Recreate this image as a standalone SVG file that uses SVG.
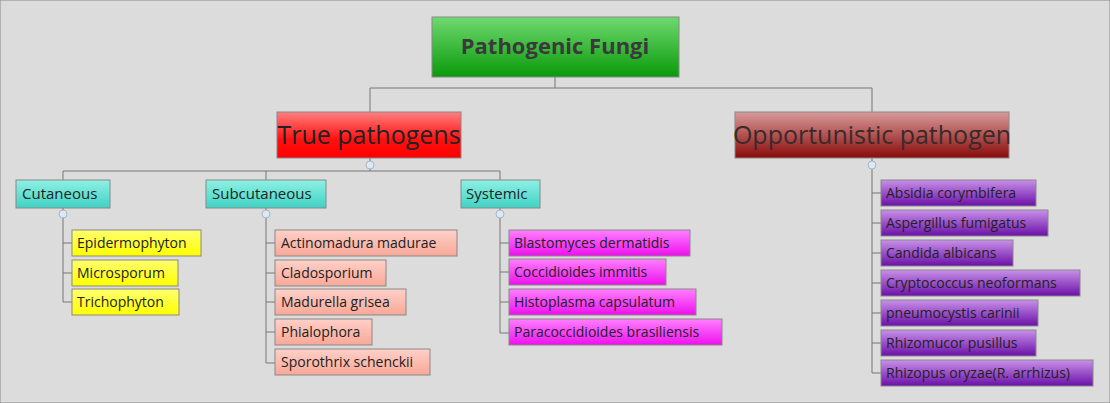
<svg xmlns="http://www.w3.org/2000/svg" width="1110" height="403" viewBox="0 0 1110 403">
<defs>
<linearGradient id="gG" x1="0" y1="0" x2="0" y2="1"><stop offset="0" stop-color="#6fd96f"/><stop offset="1" stop-color="#0a9a0a"/></linearGradient>
<linearGradient id="gR" x1="0" y1="0" x2="0" y2="1"><stop offset="0" stop-color="#ff8080"/><stop offset="0.6" stop-color="#ff1010"/><stop offset="1" stop-color="#ff0000"/></linearGradient>
<linearGradient id="gD" x1="0" y1="0" x2="0" y2="1"><stop offset="0" stop-color="#d89a9a"/><stop offset="1" stop-color="#8a0a0a"/></linearGradient>
<linearGradient id="gC" x1="0" y1="0" x2="0" y2="1"><stop offset="0" stop-color="#8ff0e4"/><stop offset="1" stop-color="#3fd3c4"/></linearGradient>
<linearGradient id="gY" x1="0" y1="0" x2="0" y2="1"><stop offset="0" stop-color="#ffff70"/><stop offset="1" stop-color="#ffff00"/></linearGradient>
<linearGradient id="gS" x1="0" y1="0" x2="0" y2="1"><stop offset="0" stop-color="#ffd0c8"/><stop offset="1" stop-color="#f8a898"/></linearGradient>
<linearGradient id="gM" x1="0" y1="0" x2="0" y2="1"><stop offset="0" stop-color="#ff80ff"/><stop offset="1" stop-color="#ee10ee"/></linearGradient>
<linearGradient id="gP" x1="0" y1="0" x2="0" y2="1"><stop offset="0" stop-color="#c890e8"/><stop offset="1" stop-color="#6a10a8"/></linearGradient>
</defs>
<style>
text{font-family:"Open Sans","Noto Sans","DejaVu Sans",sans-serif;fill:#222}
rect{stroke:#888;stroke-width:1}
.l{font-size:14px}
.m{font-size:15px}
.c line,.c path{stroke:#777;stroke-width:1;fill:none}
.k{fill:#dde8f5;stroke:#9ab;stroke-width:0.8}
</style>
<rect x="0" y="0" width="1110" height="403" fill="#dcdcdc" stroke="none"/>
<g id="connectors" class="c">
<path d="M555 77V88M370 88H872M370 88V112M872 88V112"/>
<path d="M370 158V171M63 171H500M63 171V180M266 171V180M500 171V180"/>
<path d="M63 208V302M63 243H72M63 273H72M63 302H72"/>
<path d="M266 208V363M266 243H275M266 273H275M266 302H275M266 332H275M266 363H275"/>
<path d="M500 208V333M500 243H509M500 272H509M500 302H509M500 333H509"/>
<path d="M872 158V373M872 193H881M872 223H881M872 253H881M872 283H881M872 313H881M872 343H881M872 373H881"/>
<circle class="k" cx="370" cy="165" r="4"/><circle class="k" cx="872" cy="165" r="4"/>
<circle class="k" cx="63" cy="214" r="4"/><circle class="k" cx="266" cy="214" r="4"/><circle class="k" cx="500" cy="214" r="4"/>
</g>
<g id="root"><rect x="432" y="17" width="247" height="60" fill="url(#gG)"/><text x="555" y="54" text-anchor="middle" font-size="22" font-weight="bold" style="fill:#3a3a3a">Pathogenic Fungi</text></g>
<g id="true"><rect x="277" y="112" width="184" height="46" fill="url(#gR)"/><text x="369" y="144" text-anchor="middle" font-size="25">True pathogens</text></g>
<g id="opp"><rect x="735" y="112" width="274" height="46" fill="url(#gD)"/><text x="872" y="144" text-anchor="middle" font-size="25" style="fill:#3a2a2a">Opportunistic pathogen</text></g>
<g id="cut"><rect x="16" y="180" width="94" height="28" fill="url(#gC)"/><text class="m" x="22" y="199">Cutaneous</text></g>
<g id="sub"><rect x="206" y="180" width="120" height="28" fill="url(#gC)"/><text class="m" x="212" y="199">Subcutaneous</text></g>
<g id="sys"><rect x="461" y="180" width="79" height="28" fill="url(#gC)"/><text class="m" x="466" y="199">Systemic</text></g>
<g id="c1"><rect x="72" y="230" width="129" height="26" fill="url(#gY)"/><text class="l" x="77" y="248">Epidermophyton</text></g>
<g id="c2"><rect x="72" y="260" width="106" height="26" fill="url(#gY)"/><text class="l" x="77" y="278">Microsporum</text></g>
<g id="c3"><rect x="72" y="289" width="107" height="26" fill="url(#gY)"/><text class="l" x="77" y="307">Trichophyton</text></g>
<g id="s1"><rect x="275" y="230" width="182" height="26" fill="url(#gS)"/><text class="l" x="281" y="248">Actinomadura madurae</text></g>
<g id="s2"><rect x="275" y="260" width="111" height="26" fill="url(#gS)"/><text class="l" x="281" y="278">Cladosporium</text></g>
<g id="s3"><rect x="275" y="289" width="131" height="26" fill="url(#gS)"/><text class="l" x="281" y="307">Madurella grisea</text></g>
<g id="s4"><rect x="275" y="319" width="97" height="26" fill="url(#gS)"/><text class="l" x="281" y="337">Phialophora</text></g>
<g id="s5"><rect x="275" y="349" width="155" height="26" fill="url(#gS)"/><text class="l" x="281" y="367">Sporothrix schenckii</text></g>
<g id="y1"><rect x="509" y="230" width="181" height="26" fill="url(#gM)"/><text class="l" x="514" y="248">Blastomyces dermatidis</text></g>
<g id="y2"><rect x="509" y="259" width="157" height="26" fill="url(#gM)"/><text class="l" x="514" y="277">Coccidioides immitis</text></g>
<g id="y3"><rect x="509" y="289" width="187" height="26" fill="url(#gM)"/><text class="l" x="514" y="307">Histoplasma capsulatum</text></g>
<g id="y4"><rect x="509" y="319" width="213" height="26" fill="url(#gM)"/><text class="l" x="514" y="337">Paracoccidioides brasiliensis</text></g>
<g id="o1"><rect x="881" y="180" width="155" height="26" fill="url(#gP)"/><text class="l" x="886" y="198">Absidia corymbifera</text></g>
<g id="o2"><rect x="881" y="210" width="167" height="26" fill="url(#gP)"/><text class="l" x="886" y="228">Aspergillus fumigatus</text></g>
<g id="o3"><rect x="881" y="240" width="132" height="26" fill="url(#gP)"/><text class="l" x="886" y="258">Candida albicans</text></g>
<g id="o4"><rect x="881" y="270" width="199" height="26" fill="url(#gP)"/><text class="l" x="886" y="288">Cryptococcus neoformans</text></g>
<g id="o5"><rect x="881" y="300" width="157" height="26" fill="url(#gP)"/><text class="l" x="886" y="318">pneumocystis carinii</text></g>
<g id="o6"><rect x="881" y="330" width="155" height="26" fill="url(#gP)"/><text class="l" x="886" y="348">Rhizomucor pusillus</text></g>
<g id="o7"><rect x="881" y="360" width="212" height="26" fill="url(#gP)"/><text class="l" x="886" y="378">Rhizopus oryzae(R. arrhizus)</text></g>
</svg>
